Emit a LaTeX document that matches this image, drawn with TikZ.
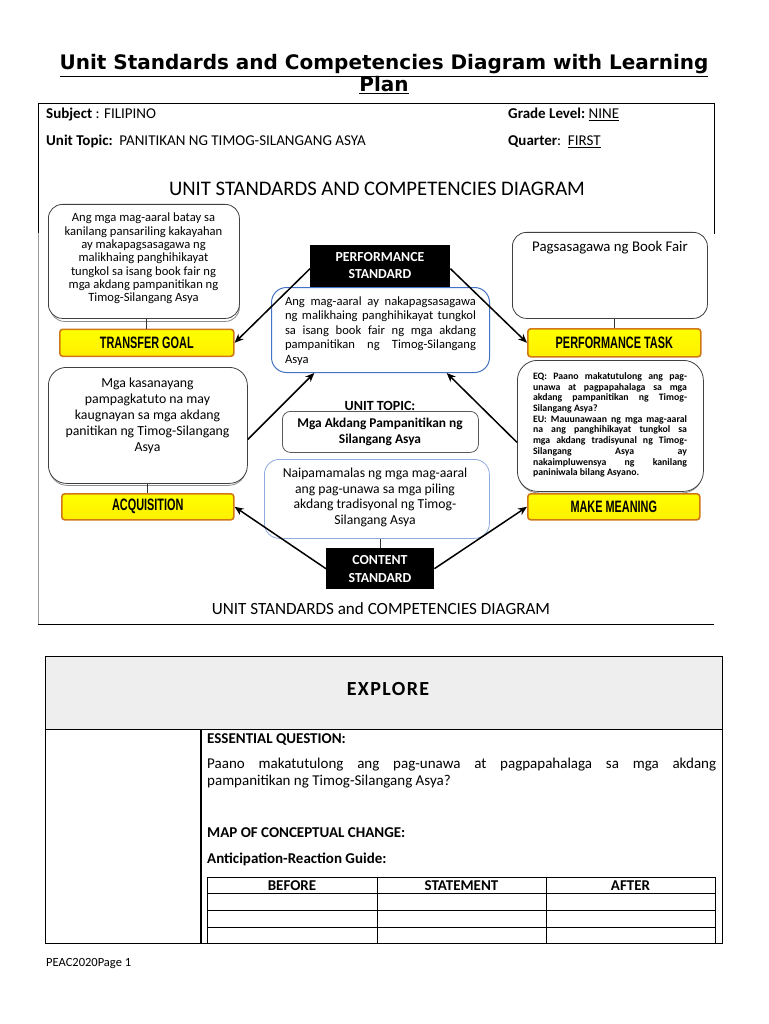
\documentclass[tikz,border=0pt]{standalone}
\usepackage{fontspec}
\setmainfont{Carlito}
\newfontfamily\titlefont{DejaVu Sans}
\newfontfamily\narrowfont[FakeStretch=0.66]{Liberation Sans}
\usetikzlibrary{arrows.meta}
\definecolor{ybord}{HTML}{D07818}
\definecolor{bblue}{HTML}{4472C4}
\definecolor{lblue}{HTML}{8FAADC}
\definecolor{hdrgray}{HTML}{EEEEEE}
\hyphenpenalty=10000
\exhyphenpenalty=10000
\begin{document}
\begin{tikzpicture}[x=1pt,y=-1pt,
  rbox/.style={draw=black!75, line width=0.8pt, rounded corners=14pt, fill=white, inner sep=0pt},
  shbox/.style={draw=black!45, line width=0.8pt, rounded corners=14pt, inner sep=0pt},
  ybox/.style={draw=ybord, line width=1.6pt, rounded corners=3pt, top color=yellow, bottom color=yellow!88!orange, font=\narrowfont\bfseries\fontsize{16.5}{19}\selectfont, inner sep=0pt},
  kbox/.style={fill=black, inner sep=0pt},
  ktext/.style={text=white, font=\bfseries\fontsize{13.8}{17.5}\selectfont, align=center},
  arr/.style={-{Stealth[length=9pt,width=7.5pt]}, line width=1.5pt},
  conn/.style={line width=1pt, black!80},
  lab/.style={anchor=base west, inner sep=0pt, font=\fontsize{15}{18}\selectfont},
]
\useasboundingbox[fill=white] (0,0) rectangle (768,1024);

% ---------- title ----------
\node[anchor=base, inner sep=0pt, font=\titlefont\bfseries\fontsize{20}{24}\selectfont] (t1) at (384,70) {\underline{Unit Standards and Competencies Diagram with Learning}};
\node[anchor=base, inner sep=0pt, font=\titlefont\bfseries\fontsize{20}{24}\selectfont] (t2) at (384,92) {\underline{Plan}};

% ---------- frame ----------
\draw[line width=1pt] (38,233) -- (38,104) -- (714,104) -- (714,234);
\draw[line width=0.6pt, black!40] (38,233) -- (38,624);
\draw[line width=1pt] (38,624) -- (714,624);

% ---------- header info ----------
\node[lab] (subj) at (46,119) {\textbf{Subject} : FILIPINO};
\node[lab] (utop) at (46,146) {\textbf{Unit Topic:}\ \ PANITIKAN NG TIMOG-SILANGANG ASYA};
\node[lab] (grade) at (508,119) {\textbf{Grade Level:}\ \underline{NINE}};
\node[lab] (quart) at (508,146) {\textbf{Quarter}:\ \ \underline{FIRST}};

\node[anchor=base, inner sep=0pt, font=\fontsize{20.7}{24}\selectfont] (head) at (377,196) {UNIT STANDARDS AND COMPETENCIES DIAGRAM};

% ---------- top left ----------
\node[shbox, minimum width=189pt, minimum height=114pt, anchor=north west] (tlsh) at (50,207) {};
\node[rbox, minimum width=191pt, minimum height=114pt, anchor=north west] (tl) at (48,204) {};
\node[font=\fontsize{12.6}{13.3}\selectfont, align=center, inner sep=0pt] (tltx) at (143.5,258.5) {Ang mga mag-aaral batay sa\\kanilang pansariling kakayahan\\ay makapagsasagawa ng\\malikhaing panghihikayat\\tungkol sa isang book fair ng\\mga akdang pampanitikan ng\\Timog-Silangang Asya};
\node[ybox, minimum width=174pt, minimum height=27pt, anchor=north west] (tg) at (59,328.5) {TRANSFER GOAL};
\draw[conn] (tg.north) -- (tg.north |- tl.south);

% ---------- performance standard ----------
\node[kbox, minimum width=140pt, minimum height=47pt, anchor=north west] (ps) at (310,245) {};
\node[ktext, inner sep=0pt] (pstxt) at (380,265.5) {PERFORMANCE\\STANDARD};
\node[draw=bblue, line width=1pt, rounded corners=15pt, fill=white, minimum width=218pt, minimum height=85pt, anchor=north west, inner sep=0pt] (psb) at (271,287) {};
\node[font=\fontsize{12.6}{14.5}\selectfont, text width=191pt, align=justify, inner sep=0pt] (psbtx) at (380.5,331) {Ang mag-aaral ay nakapagsasagawa\linebreak ng malikhaing panghihikayat tungkol\linebreak sa isang book fair ng mga akdang\linebreak pampanitikan ng Timog-Silangang\linebreak Asya};

% ---------- top right ----------
\node[rbox, minimum width=195pt, minimum height=86pt, anchor=north west] (tr) at (512,232) {};
\node[font=\fontsize{14.8}{17}\selectfont, inner sep=0pt] (trtx) at (610,248) {Pagsasagawa ng Book Fair};
\node[ybox, minimum width=173pt, minimum height=28pt, anchor=north west] (pt) at (527,328) {PERFORMANCE TASK};
\draw[conn] (pt.north) -- (pt.north |- tr.south);

% ---------- left middle ----------
\node[shbox, rounded corners=18pt, minimum width=197pt, minimum height=116pt, anchor=north west] (lmsh) at (49,369) {};
\node[rbox, rounded corners=18pt, minimum width=199pt, minimum height=116pt, anchor=north west] (lm) at (48,367) {};
\node[font=\fontsize{13.8}{16}\selectfont, align=center, inner sep=0pt] (lmtx) at (147.5,416) {Mga kasanayang\\pampagkatuto na may\\kaugnayan sa mga akdang\\panitikan ng Timog-Silangang\\Asya};
\node[ybox, minimum width=172pt, minimum height=26pt, anchor=north west] (acq) at (61,493) {ACQUISITION};
\draw[conn] (acq.north) -- (acq.north |- lm.south);

% ---------- right middle ----------
\node[shbox, rounded corners=20pt, minimum width=184pt, minimum height=131pt, anchor=north west] (eqsh) at (518,361.5) {};
\node[rbox, rounded corners=20pt, minimum width=186pt, minimum height=131pt, anchor=north west] (eq) at (517,360) {};
\node[font=\bfseries\fontsize{9.8}{10.7}\selectfont, text width=154pt, align=justify, inner sep=0pt] (eqtx) at (610,425) {EQ: Paano makatutulong ang pag-\linebreak unawa at pagpapahalaga sa mga\linebreak akdang pampanitikan ng Timog-\linebreak Silangang Asya?\\EU: Mauunawaan ng mga mag-aaral\linebreak na ang panghihikayat tungkol sa\linebreak mga akdang tradisyunal ng Timog-\linebreak Silangang Asya ay\linebreak nakaimpluwensya ng kanilang\linebreak paniniwala bilang Asyano.};
\node[ybox, minimum width=172pt, minimum height=26pt, anchor=north west] (mm) at (527,493) {MAKE MEANING};

% ---------- unit topic ----------
\node[anchor=base, inner sep=0pt, font=\bfseries\fontsize{14}{16}\selectfont] (utl) at (380,410) {\underline{UNIT TOPIC:}};
\node[draw=black!65, line width=0.8pt, rounded corners=8pt, fill=white, minimum width=196pt, minimum height=41pt, anchor=north west, inner sep=0pt] (ut) at (282,411) {};
\node[font=\bfseries\fontsize{13.4}{16}\selectfont, align=center, inner sep=0pt] (uttx) at (380,432) {Mga Akdang Pampanitikan ng\\Silangang Asya};

% ---------- content standard ----------
\node[draw=lblue, line width=0.8pt, rounded corners=15pt, fill=white, minimum width=225pt, minimum height=79pt, anchor=north west, inner sep=0pt] (csb) at (264,459) {};
\node[font=\fontsize{13.7}{15.6}\selectfont, align=center, inner sep=0pt] (csbtx) at (375,497.5) {Naipamamalas ng mga mag-aaral\\ang pag-unawa sa mga piling\\akdang tradisyonal ng Timog-\\Silangang Asya};
\node[kbox, minimum width=108pt, minimum height=41pt, anchor=north west] (cs) at (326,548) {};
\node[ktext, inner sep=0pt] (cstxt) at (380,569) {CONTENT\\STANDARD};
\draw[conn] (cs.north) -- (cs.north |- csb.south);

% ---------- arrows ----------
\draw[arr] (ps.west) -- (tg.east);
\draw[arr] (ps.east) -- (pt.west);
\draw[arr] (lm.-8.6) -- (psb.-147.6);
\draw[arr] (eq.190) -- (psb.-33.6);
\draw[arr] (cs.west) -- (acq.east);
\draw[arr] (cs.east) -- (mm.west);

\node[anchor=base, inner sep=0pt, font=\fontsize{17.1}{20}\selectfont] (cap) at (381,614) {UNIT STANDARDS and COMPETENCIES DIAGRAM};

% ---------- explore table ----------
\fill[hdrgray] (45,656) rectangle (722,729);
\draw[line width=1pt] (45,656) rectangle (722,943);
\draw[line width=0.8pt] (45,729) -- (722,729);
\draw[line width=1.2pt] (201,729) -- (201,943);
\node[anchor=base, inner sep=0pt, font=\bfseries\fontsize{20}{24}\selectfont\addfontfeature{LetterSpace=7}] (expl) at (388,695) {EXPLORE};
\node[lab, font=\bfseries\fontsize{15}{18}\selectfont] (essq) at (207,743) {ESSENTIAL QUESTION:};
\node[lab] (q1) at (207,768) {\makebox[509pt][s]{Paano makatutulong ang pag-unawa at pagpapahalaga sa mga akdang}};
\node[lab] (q2) at (207,785) {pampanitikan ng Timog-Silangang Asya?};
\node[lab, font=\bfseries\fontsize{15}{18}\selectfont] (mapc) at (207,837) {MAP OF CONCEPTUAL CHANGE:};
\node[lab, font=\bfseries\fontsize{15}{18}\selectfont] (arg) at (207,863) {Anticipation-Reaction Guide:};
\draw[line width=0.8pt] (207,877) rectangle (715,943);
\draw[line width=0.8pt] (377,877) -- (377,943) (546,877) -- (546,943);
\draw[line width=0.8pt] (207,893) -- (715,893) (207,910) -- (715,910) (207,927) -- (715,927);
\node[anchor=base, inner sep=0pt, font=\bfseries\fontsize{15}{18}\selectfont] (hb) at (292,890) {BEFORE};
\node[anchor=base, inner sep=0pt, font=\bfseries\fontsize{15}{18}\selectfont] (hs) at (461.5,890) {STATEMENT};
\node[anchor=base, inner sep=0pt, font=\bfseries\fontsize{15}{18}\selectfont] (ha) at (630.5,890) {AFTER};

\node[anchor=base west, inner sep=0pt, font=\fontsize{12.5}{15}\selectfont] (foot) at (46,966) {PEAC2020Page 1};
\end{tikzpicture}
\end{document}
